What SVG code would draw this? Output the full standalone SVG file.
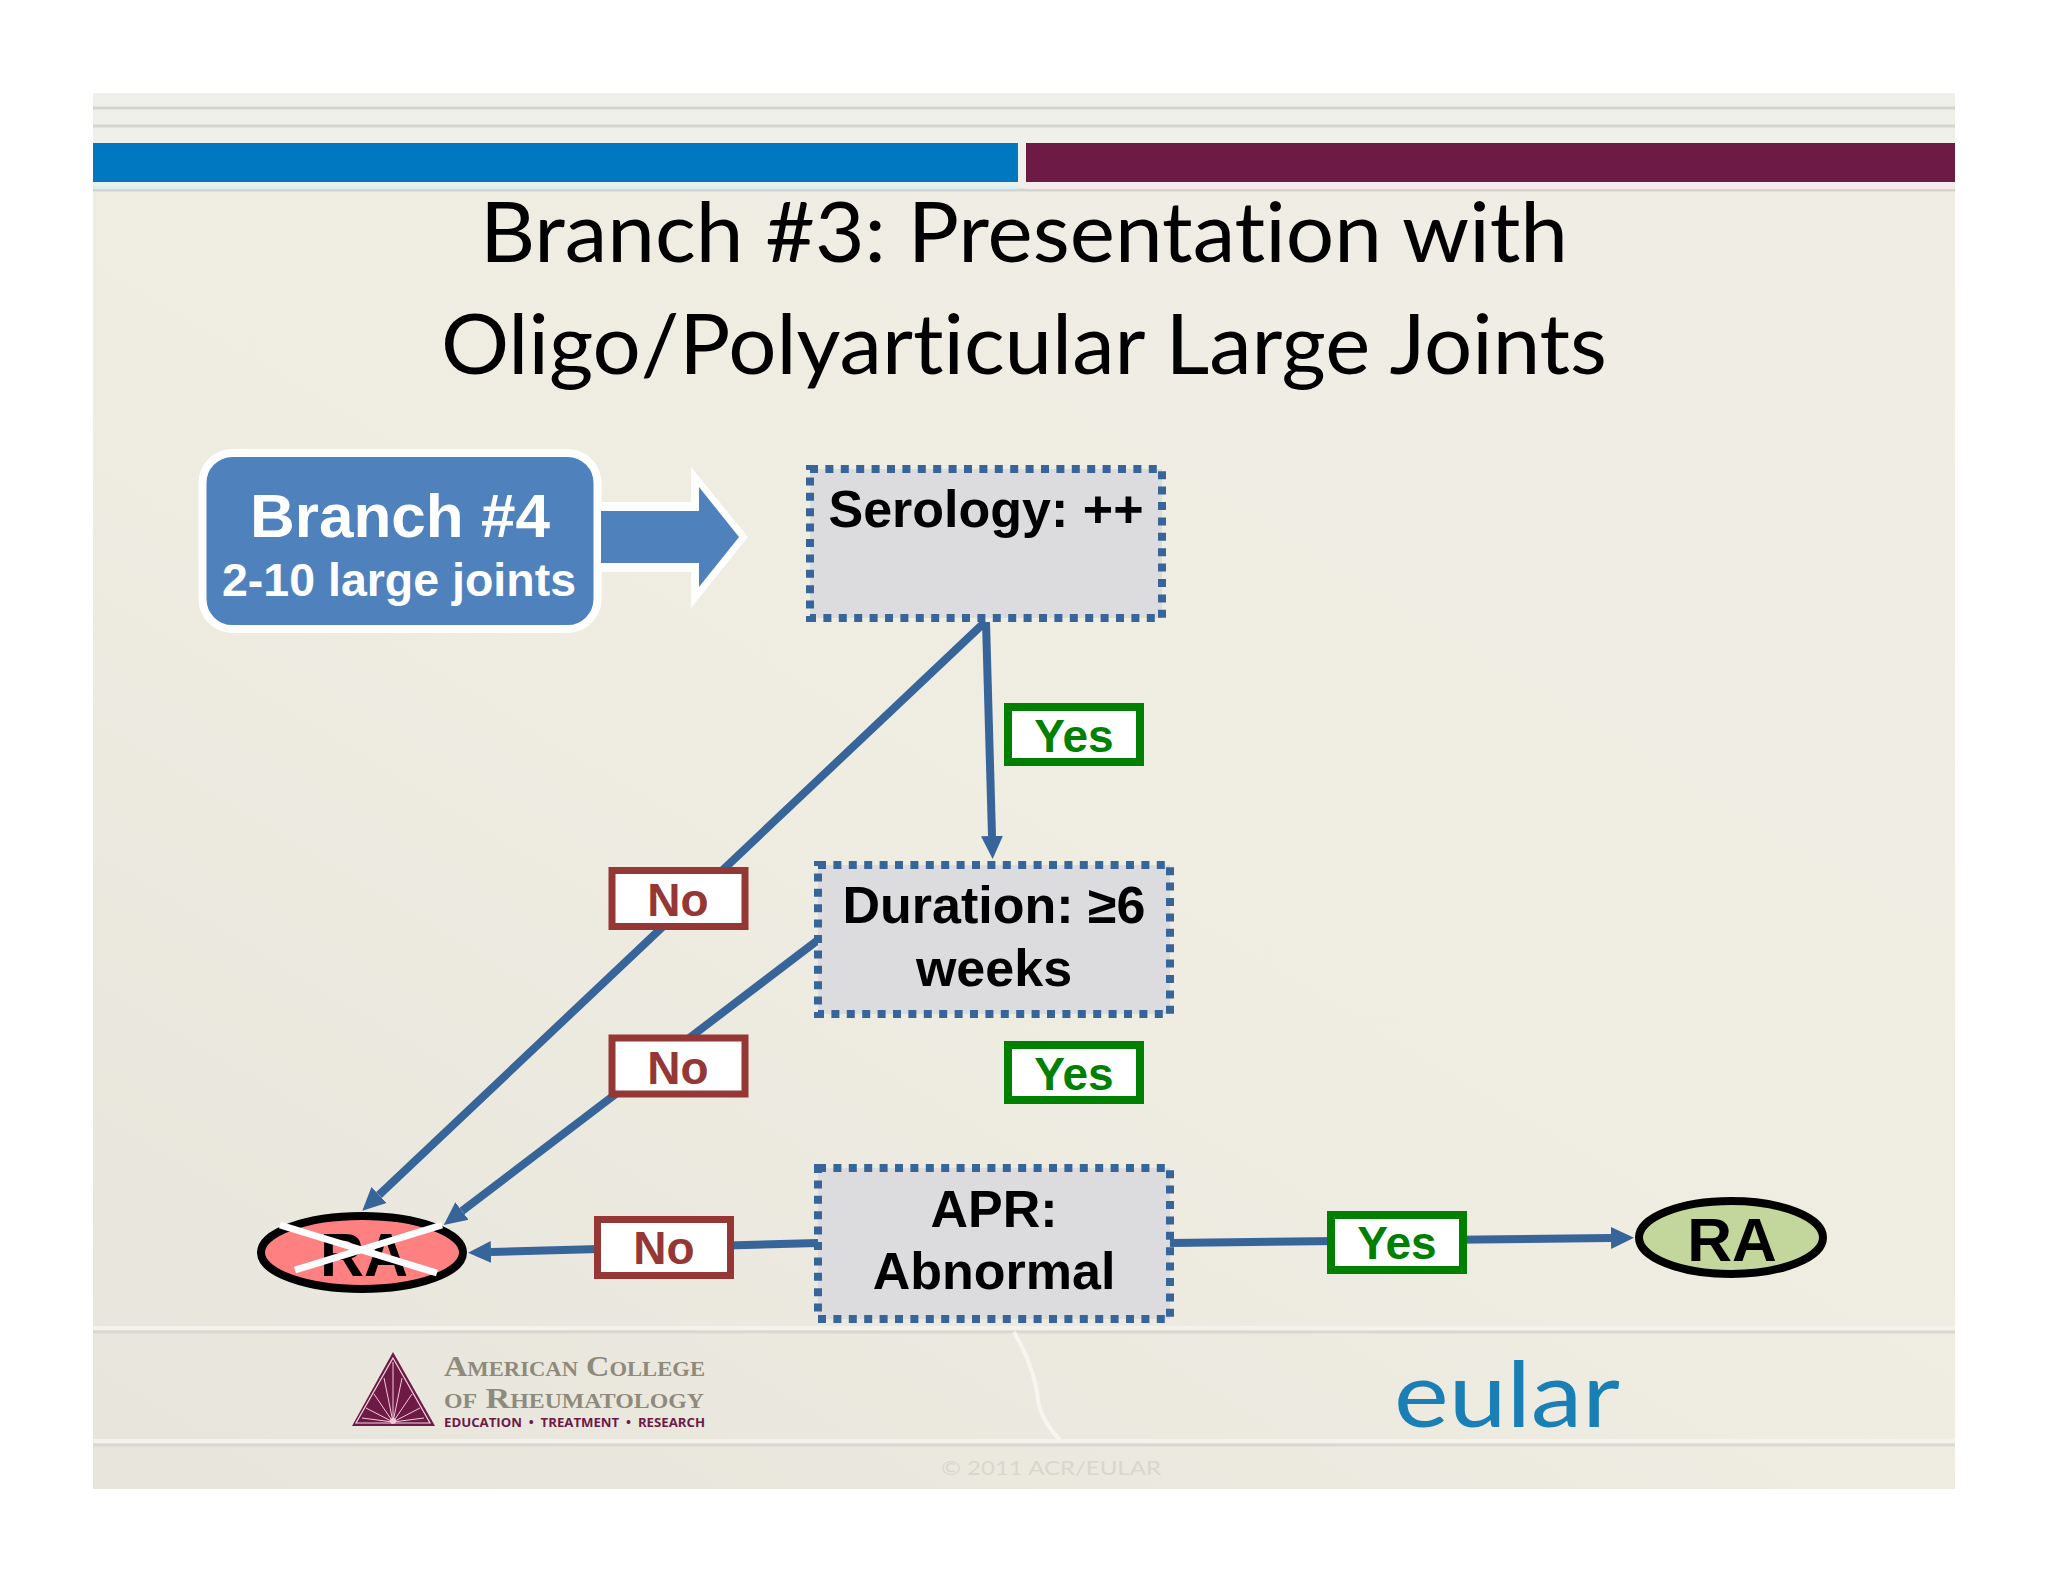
<svg xmlns="http://www.w3.org/2000/svg" width="2048" height="1582" viewBox="0 0 2048 1582">
<defs>
<linearGradient id="bg" x1="0.9" y1="0" x2="0.1" y2="1"><stop offset="0" stop-color="#f0eee4"/><stop offset="0.55" stop-color="#efece2"/><stop offset="1" stop-color="#e8e6dc"/></linearGradient>
<marker id="head" markerUnits="userSpaceOnUse" markerWidth="24" markerHeight="24" refX="0" refY="12" orient="auto"><path d="M0,1 L23,12 L0,23 Z" fill="#376499"/></marker>
</defs>
<style>
.b{font-family:"Liberation Sans",Arial,sans-serif;font-weight:700}
.c{text-anchor:middle}
.dash{fill:#dcdbde;stroke:#376499;stroke-width:8;stroke-dasharray:8 7.4}
.no{fill:#fff;stroke:#953735;stroke-width:7}
.yes{fill:#fff;stroke:#008000;stroke-width:8}
.not{fill:#953735;font-size:46px}
.yet{fill:#008000;font-size:46px}
.k{fill:#000;font-size:52px}
.w{fill:#fff}
.con{fill:none;stroke:#376499;stroke-width:8}
.ln{stroke-width:3;fill:none}
.ti{font-family:Lato,"Open Sans",sans-serif;font-size:83px;fill:#000;font-variant-ligatures:none}
.acr{font-family:"Liberation Serif","Times New Roman",serif;font-weight:700;font-size:30px;fill:#8e8a7c;font-variant:small-caps}
.ray{stroke:#f4c9da;stroke-width:1;fill:none}
</style>
<rect width="2048" height="1582" fill="#fff"/>
<g id="slide">
<rect x="93" y="93" width="1862" height="1396" fill="url(#bg)"/>
<rect x="93" y="93" width="1862" height="97" fill="#eff0ea"/>
<path d="M93,108H1955M93,126H1955M93,190H1955" class="ln" stroke="#d5d5cd"/>
<rect x="93" y="186" width="925" height="3" fill="#d8f1f6"/>
<rect x="1026" y="186" width="929" height="3" fill="#f8e8ee"/>
<rect x="93" y="143" width="925" height="39" fill="#0078c1"/>
<rect x="1026" y="143" width="929" height="39" fill="#6d1a45"/>
<rect x="93" y="1326" width="1862" height="4" fill="#f3f2ec"/>
<rect x="93" y="1439" width="1862" height="4" fill="#f3f2ec"/>
<path d="M93,1332H1955M93,1445H1955" class="ln" stroke="#d9d8cf"/>
<path d="M1014,1332C1030,1360 1036,1380 1038,1400C1040,1415 1050,1430 1060,1440" fill="none" stroke="#f6f5ef" stroke-width="4"/>
</g>
<g id="title">
<text class="ti" x="480" y="262" textLength="1088" lengthAdjust="spacingAndGlyphs">Branch #3: Presentation with</text>
<text class="ti" x="441" y="374" textLength="1166" lengthAdjust="spacingAndGlyphs">Oligo/Polyarticular Large Joints</text>
</g>
<g id="connectors">
<line class="con" x1="985" y1="622" x2="379" y2="1195" marker-end="url(#head)"/>
<line class="con" x1="818" y1="940" x2="462" y2="1211" marker-end="url(#head)"/>
<line class="con" x1="986" y1="622" x2="992" y2="836" marker-end="url(#head)"/>
<line class="con" x1="818" y1="1243" x2="491" y2="1252" marker-end="url(#head)"/>
<line class="con" x1="1170" y1="1243" x2="1611" y2="1238" marker-end="url(#head)"/>
</g>
<g id="branch4">
<rect x="202.500" y="453" width="395" height="176" rx="30" fill="#4f81bd" stroke="#fff" stroke-width="8"/>
<text class="b c w" x="400" y="537" font-size="62">Branch #4</text>
<text class="b c w" x="399" y="596" font-size="46.500">2-10 large joints</text>
</g>
<g id="block-arrow">
<polygon points="601,502 691,502 691,467 748,537 691,608 691,572 601,572" fill="#fff"/>
<polygon points="601,511 699,511 699,487 739,537 699,587 699,563 601,563" fill="#4f81bd"/>
</g>
<g id="serology">
<rect class="dash" x="810" y="469" width="352" height="149"/>
<text class="b c k" x="986" y="527">Serology: ++</text>
</g>
<g id="duration">
<rect class="dash" x="818" y="865" width="352" height="149"/>
<text class="b c k" x="994" y="923">Duration: ≥6</text>
<text class="b c k" x="994" y="986">weeks</text>
</g>
<g id="apr">
<rect class="dash" x="818" y="1168" width="352" height="151"/>
<text class="b c k" x="994" y="1227">APR:</text>
<text class="b c k" x="994" y="1289">Abnormal</text>
</g>
<g id="no1">
<rect class="no" x="612" y="870.500" width="133" height="56"/>
<text class="b c not" x="678" y="916">No</text>
</g>
<g id="no2">
<rect class="no" x="612" y="1038" width="133" height="56"/>
<text class="b c not" x="678" y="1084">No</text>
</g>
<g id="no3">
<rect class="no" x="597.500" y="1219.500" width="133" height="56"/>
<text class="b c not" x="664" y="1264">No</text>
</g>
<g id="yes1">
<rect class="yes" x="1008" y="707" width="132" height="55"/>
<text class="b c yet" x="1074" y="752">Yes</text>
</g>
<g id="yes2">
<rect class="yes" x="1008" y="1045" width="132" height="55"/>
<text class="b c yet" x="1074" y="1090">Yes</text>
</g>
<g id="yes3">
<rect class="yes" x="1331" y="1215" width="132" height="55"/>
<text class="b c yet" x="1397" y="1259">Yes</text>
</g>
<g id="ra-crossed">
<ellipse cx="362" cy="1252.500" rx="101" ry="36.500" fill="#ff8080" stroke="#000" stroke-width="8"/>
<text class="b c" x="364" y="1276" font-size="61" fill="#000">RA</text>
<path d="M280,1225L437,1273M295,1270L442,1225" stroke="#fff" stroke-width="7" fill="none"/>
</g>
<g id="ra-yes">
<ellipse cx="1731" cy="1237.500" rx="92" ry="36.500" fill="#c3d69b" stroke="#000" stroke-width="8"/>
<text class="b c" x="1732" y="1261" font-size="62" fill="#000">RA</text>
</g>
<g id="acr-logo">
<polygon points="393,1352 435,1426 352,1426" fill="#6d1a45"/>
<polygon points="393,1358 430,1423 356,1423" fill="none" stroke="#f0d5e0" stroke-width="1.200"/>
<path class="ray" d="M393,1422L393,1362M393,1422L384,1378M393,1422L402,1378M393,1422L374,1394M393,1422L412,1394M393,1422L366,1408M393,1422L420,1408M393,1422L362,1418M393,1422L424,1418"/>
<circle cx="393" cy="1421" r="3" fill="#f4c9da"/>
<text class="acr" x="444" y="1376" textLength="261" lengthAdjust="spacingAndGlyphs">American College</text>
<text class="acr" x="444" y="1408" textLength="260" lengthAdjust="spacingAndGlyphs">of Rheumatology</text>
<text x="444" y="1427" font-family="'Open Sans','Liberation Sans',sans-serif" font-weight="700" font-size="12.500" fill="#6d1a45" textLength="261" lengthAdjust="spacingAndGlyphs" xml:space="preserve">EDUCATION  •  TREATMENT  •  RESEARCH</text>
</g>
<g id="eular-logo">
<text x="1394" y="1427" font-family="Lato,'Open Sans',sans-serif" font-size="92" fill="#1a7fb5" textLength="226" lengthAdjust="spacingAndGlyphs">eular</text>
</g>
<text x="941" y="1475" font-family="Lato,'Open Sans',sans-serif" font-size="20" fill="#d9d7cd" textLength="220" lengthAdjust="spacingAndGlyphs">© 2011 ACR/EULAR</text>
</svg>
